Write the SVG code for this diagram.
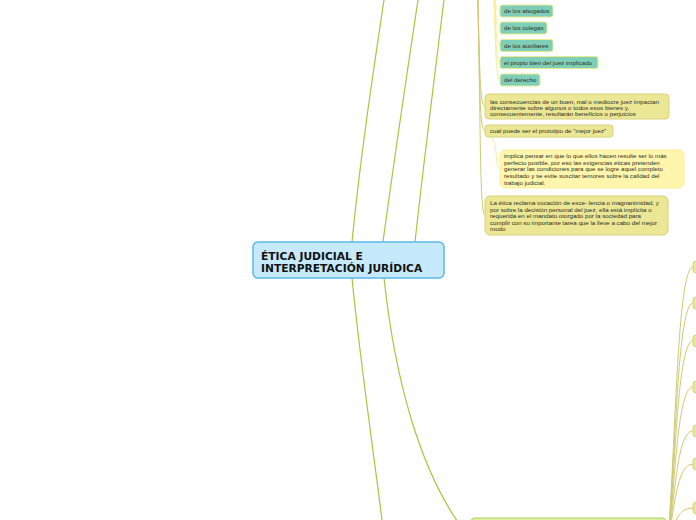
<svg xmlns="http://www.w3.org/2000/svg" width="696" height="520" viewBox="0 0 696 520">
<style>
.bg{fill:#ffffff}
.main{fill:none;stroke:#a3c93f;stroke-width:1.2}
.olive{fill:none;stroke:#cfca74;stroke-width:1}
.pale{fill:none;stroke:#f7ee96;stroke-width:1}
.teal{fill:#7fcfb8;stroke:#e9e98e;stroke-width:1}
.ol{fill:#ebe795;stroke:#d6d27a;stroke-width:1}
.lt{fill:#fff6ad;stroke:#fbef9c;stroke-width:1}
.gr{fill:#dcf1a6;stroke:#a9d35b;stroke-width:1}
.cen{fill:#c6eafb;stroke:#5cb9e9;stroke-width:1.5}
.t{font-family:"Liberation Sans",Arial,sans-serif;font-size:6.2px;fill:#2e2e22}
.title{font-family:"DejaVu Sans",Verdana,sans-serif;font-size:10.7px;font-weight:bold;fill:#111}
</style>
<rect class="bg" x="0" y="0" width="696" height="520"/>
<g id="connectors">
<path class="main" d="M352,242 C360,160 372,80 384,0"/>
<path class="main" d="M383,242 C394,160 406,80 418,0"/>
<path class="main" d="M415,242 C424,160 434,80 444,0"/>
<path class="main" d="M352,278 C360,360 372,440 382,520"/>
<path class="main" d="M384,278 C395,380 420,470 462,528"/>
<path class="olive" d="M477,-30 C480,60 479,106 485,106"/>
<path class="olive" d="M477,-30 C480,80 479,131 485,131"/>
<path class="olive" d="M477,-30 C481,100 479,215 485,215"/>
<path class="pale" d="M492,-30 C496,0 494,11 500,11"/>
<path class="pale" d="M492,-30 C496,0 494,28 500,28"/>
<path class="pale" d="M492,-30 C496,0 494,45.5 500,45.5"/>
<path class="pale" d="M492,-30 C496,0 494,62.5 500,62.5"/>
<path class="pale" d="M492,-30 C496,0 494,80 500,80"/>
<path class="pale" d="M490,137 C499,140 494,169 500,169"/>
<path class="olive" d="M667,545 C675,480 676,267 693,267"/>
<path class="olive" d="M667,545 C675,490 676,303 693,303"/>
<path class="olive" d="M667,545 C675,495 676,341 693,341"/>
<path class="olive" d="M667,545 C675,500 676,387 693,387"/>
<path class="olive" d="M667,545 C675,505 676,431 693,431"/>
<path class="olive" d="M667,545 C675,510 676,464 693,464"/>
<path class="olive" d="M667,545 C675,525 676,508 693,508"/>
</g>
<g id="n-central">
<rect class="cen" x="253" y="242" width="191" height="36" rx="5"/>
<text class="title" x="261" y="259.5">ÉTICA JUDICIAL E</text>
<text class="title" x="261" y="271.5">INTERPRETACIÓN JURÍDICA</text>
</g>
<g id="n-abogados"><rect class="teal" x="500" y="5" width="53" height="12" rx="2.5"/><text class="t" x="504" y="13">de los abogados</text></g>
<g id="n-colegas"><rect class="teal" x="500" y="22" width="47" height="12" rx="2.5"/><text class="t" x="504" y="30">de los colegas</text></g>
<g id="n-auxiliares"><rect class="teal" x="500" y="39.5" width="53" height="12" rx="2.5"/><text class="t" x="504" y="47.5">de los auxiliares</text></g>
<g id="n-propio"><rect class="teal" x="500" y="56.5" width="98" height="12" rx="2.5"/><text class="t" x="504" y="64.5">el propio bien del juez implicado</text></g>
<g id="n-derecho"><rect class="teal" x="500" y="74" width="40" height="12" rx="2.5"/><text class="t" x="504" y="82">del derecho</text></g>
<g id="n-consecuencias">
<rect class="ol" x="485" y="94" width="184" height="25" rx="4"/>
<text class="t" x="490" y="103.5">las consecuencias de un buen, mal o mediocre juez impactan</text>
<text class="t" x="490" y="109.8">directamente sobre algunos o todos esos bienes y,</text>
<text class="t" x="490" y="116.1">consecuentemente, resultarán beneficios o perjuicios</text>
</g>
<g id="n-prototipo">
<rect class="ol" x="485" y="125" width="128" height="12" rx="3"/>
<text class="t" x="490" y="133">cual puede ser el prototipo de "mejor juez"</text>
</g>
<g id="n-implica">
<rect class="lt" x="500" y="150" width="184" height="38" rx="5"/>
<text class="t" x="504" y="158.2">implica pensar en que lo que ellos hacen resulte ser lo más</text>
<text class="t" x="504" y="164.8">perfecto posible, por eso las exigencias éticas pretenden</text>
<text class="t" x="504" y="171.4">generar las condiciones para que se logre aquel completo</text>
<text class="t" x="504" y="178">resultado y se evite suscitar temores sobre la calidad del</text>
<text class="t" x="504" y="184.6">trabajo judicial.</text>
</g>
<g id="n-etica">
<rect class="ol" x="485" y="196" width="183" height="39" rx="5"/>
<text class="t" x="490" y="205">La ética reclama vocación de exce- lencia o magnanimidad, y</text>
<text class="t" x="490" y="211.5">por sobre la decisión personal del juez, ella está implícita o</text>
<text class="t" x="490" y="218">requerida en el mandato otorgado por la sociedad para</text>
<text class="t" x="490" y="224.5">cumplir con su importante tarea que la lleve a cabo del mejor</text>
<text class="t" x="490" y="231">modo</text>
</g>
<g id="n-bottom"><rect class="gr" x="470" y="518" width="197" height="40" rx="5"/></g>
<g id="n-r1"><rect class="ol" x="693" y="261" width="24" height="12" rx="3"/></g>
<g id="n-r2"><rect class="ol" x="693" y="297" width="24" height="12" rx="3"/></g>
<g id="n-r3"><rect class="ol" x="693" y="335" width="24" height="12" rx="3"/></g>
<g id="n-r4"><rect class="ol" x="693" y="381" width="24" height="12" rx="3"/></g>
<g id="n-r5"><rect class="ol" x="693" y="425" width="24" height="12" rx="3"/></g>
<g id="n-r6"><rect class="ol" x="693" y="458" width="24" height="12" rx="3"/></g>
<g id="n-r7"><rect class="ol" x="693" y="502" width="24" height="12" rx="3"/></g>
</svg>
